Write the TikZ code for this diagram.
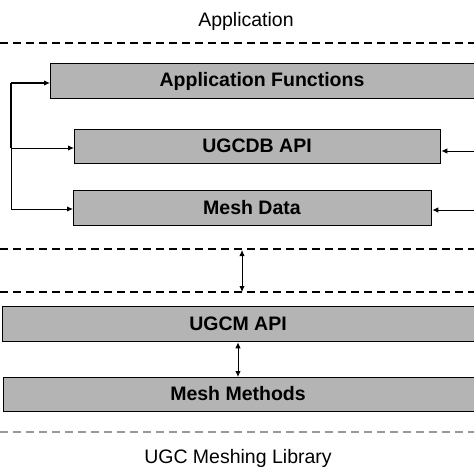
\documentclass[tikz,border=0pt]{standalone}
\usepackage{fontspec}
\setmainfont{Liberation Sans}
\usetikzlibrary{arrows.meta}
\begin{document}
\begin{tikzpicture}[x=1pt,y=-1pt,
  layer/.style={draw=black,line width=1.3pt,fill=boxgray,inner sep=0pt,anchor=north west},
  btxt/.style={font=\fontsize{19.5}{22}\selectfont\bfseries,inner sep=0pt},
  lbl/.style={font=\fontsize{19.5}{22}\selectfont,inner sep=0pt},
  sep/.style={line width=1.4pt,dash pattern=on 8pt off 5pt},
  conn/.style={line width=1pt,-{Latex[length=6pt,width=5.5pt]}},
  dconn/.style={line width=1pt,{Latex[length=6pt,width=5.5pt]}-{Latex[length=6pt,width=5.5pt]}}]
\definecolor{boxgray}{HTML}{B4B4B4}
\useasboundingbox (0,0) rectangle (474,474);
\clip (0,0) rectangle (474,474);
\fill[white] (0,0) rectangle (474,474);
\node[lbl] (app) at (246,21) {Application};
\node[lbl] (lib) at (238,458) {UGC Meshing Library};
% separators
\coordinate (s1l) at (0,43); \coordinate (s1r) at (474,43);
\coordinate (s2l) at (0,249); \coordinate (s2r) at (474,249);
\coordinate (s3l) at (0,292); \coordinate (s3r) at (474,292);
\coordinate (s4l) at (0,432); \coordinate (s4r) at (474,432);
\draw[sep] (s1l) -- (s1r);
\draw[sep] (s2l) -- (s2r);
\draw[sep] (s3l) -- (s3r);
\draw[sep,draw=gray!80,line width=1.2pt] (s4l) -- (s4r);
% boxes
\node[layer,minimum width=440pt,minimum height=35pt] (appf) at (50,63) {};
\node[btxt] (tappf) at (262,81) {Application Functions};
\node[layer,minimum width=366pt,minimum height=34pt] (ugcdb) at (74,129) {};
\node[btxt] (tugcdb) at (257,146) {UGCDB API};
\node[layer,minimum width=358pt,minimum height=35pt] (mesh) at (73,190) {};
\node[btxt] (tmesh) at (252,208) {Mesh Data};
\node[layer,minimum width=490pt,minimum height=35pt] (ugcm) at (2,306) {};
\node[btxt] (tugcm) at (238,324) {UGCM API};
\node[layer,minimum width=490pt,minimum height=34pt] (mm) at (3,377) {};
\node[btxt] (tmm) at (238,394) {Mesh Methods};
% left bus
\coordinate (b1) at (11,83);
\coordinate (b2) at (11,148);
\coordinate (b3) at (11,209);
\draw[line width=2pt] (b1) -- (b2);
\draw[line width=1pt] (b2) -- (b3);
\draw[conn,line width=1.4pt] (b1) -- (b1 -| appf.west);
\draw[conn] (b2) -- (b2 -| ugcdb.west);
\draw[conn] (b3) -- (b3 -| mesh.west);
% right inputs
\coordinate (r1) at (480,151);
\coordinate (r2) at (480,210);
\draw[conn] (r1) -- (r1 -| ugcdb.east);
\draw[conn] (r2) -- (r2 -| mesh.east);
% vertical double arrows
\coordinate (v1) at (242,250);
\coordinate (v2) at (242,292);
\draw[dconn] (v1) -- (v2);
\draw[dconn] (ugcm.south -| 238,0) -- (mm.north -| 238,0);
\end{tikzpicture}
\end{document}
